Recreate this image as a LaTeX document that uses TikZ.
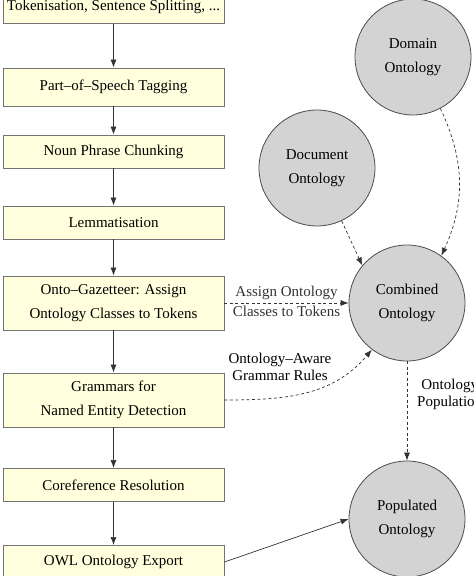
\documentclass[tikz,border=0pt]{standalone}
\usepackage{fontspec}
\setmainfont{Liberation Serif}
\usetikzlibrary{arrows.meta}
\definecolor{boxfill}{HTML}{FFFFDD}
\definecolor{ontofill}{HTML}{D3D3D3}

\begin{document}
\begin{tikzpicture}[x=1pt,y=1pt,
  box/.style={draw=black!55,line width=0.9pt,fill=boxfill,minimum width=221pt,
    minimum height=33pt,align=center,font=\fontsize{15}{24}\selectfont,inner sep=0pt},
  onto/.style={circle,draw=black!70,line width=0.8pt,fill=ontofill,minimum size=116pt,
    align=center,font=\fontsize{15}{24}\selectfont,inner sep=0pt},
  flow/.style={-{Latex[length=8pt,width=6pt]},line width=0.7pt,black!80},
  link/.style={flow,dash pattern=on 3pt off 2.5pt},
  lbl/.style={font=\fontsize{15}{17}\selectfont,align=center,inner sep=3pt}]
  \clip (0,0) rectangle (474,576);
  \node[box] (tok) at (113.5,569) {Tokenisation, Sentence Splitting, ...};
  \node[box,minimum height=38pt] (pos) at (113.5,489) {Part--of--Speech Tagging};
  \node[box] (np) at (113.5,424.5) {Noun Phrase Chunking};
  \node[box] (lem) at (113.5,353.5) {Lemmatisation};
  \node[box,minimum height=54pt] (gaz) at (113.5,273) {Onto--Gazetteer: Assign\\Ontology Classes to Tokens};
  \node[box,minimum height=54pt] (gram) at (113.5,176) {Grammars for\\Named Entity Detection};
  \node[box] (coref) at (113.5,91) {Coreference Resolution};
  \node[box] (owl) at (113.5,14) {OWL Ontology Export};
  \node[onto] (dom) at (413,519) {Domain\\Ontology};
  \node[onto] (doc) at (317,408) {Document\\Ontology};
  \node[onto] (comb) at (407,273) {Combined\\Ontology};
  \node[onto] (pop) at (407,57) {Populated\\Ontology};
  \draw[flow] (tok) -- (pos);
  \draw[flow] (pos) -- (np);
  \draw[flow] (np) -- (lem);
  \draw[flow] (lem) -- (gaz);
  \draw[flow] (gaz) -- (gram);
  \draw[flow] (gram) -- (coref);
  \draw[flow] (coref) -- (owl);
  \draw[link] (dom.-62) to[bend left=25] (comb.54);
  \draw[link] (doc.-65) -- (comb.140);
  \draw[link] (gaz.east) -- (comb.west)
    node[lbl,midway,above] {Assign Ontology}
    node[lbl,midway,below] {Classes to Tokens};
  \draw[link] (gram.east) to[out=0,in=-130] (comb.-127);
  \node[lbl] (awarelbl) at (280,209) {Ontology--Aware\\Grammar Rules};
  \draw[link] (comb.south) -- (pop.north);
  \node[lbl,anchor=west] (poplbl) at (414,182) {Ontology\\Population};
  \draw[flow] (owl.east) -- (pop.west);
\end{tikzpicture}
\end{document}
